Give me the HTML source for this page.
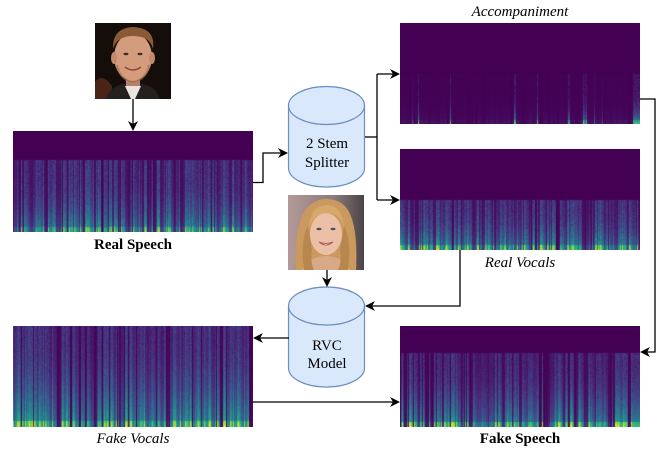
<!DOCTYPE html>
<html><head><meta charset="utf-8">
<style>
html,body{margin:0;padding:0;background:#fff;}
#wrap{position:relative;width:666px;height:454px;overflow:hidden;background:#fff;}
canvas{position:absolute;background:#440154;}
svg{position:absolute;left:0;top:0;}
</style></head>
<body>
<div id="wrap">
<canvas id="s1" width="240" height="101" style="left:13px;top:131px"></canvas>
<canvas id="s2" width="240" height="101" style="left:400px;top:23px"></canvas>
<canvas id="s3" width="240" height="101" style="left:400px;top:149px"></canvas>
<canvas id="s4" width="240" height="101" style="left:13px;top:326px"></canvas>
<canvas id="s5" width="240" height="101" style="left:400px;top:326px"></canvas>
<svg width="666" height="454" viewBox="0 0 666 454" xmlns="http://www.w3.org/2000/svg">
  <defs>
    <linearGradient id="mbg" x1="0" y1="0" x2="1" y2="0">
      <stop offset="0" stop-color="#b39a98"/>
      <stop offset="0.6" stop-color="#8c7a7c"/>
      <stop offset="1" stop-color="#4a4446"/>
    </linearGradient>
  </defs>
  <!-- Ryan photo -->
  <g>
    <rect x="95" y="23" width="76" height="76" fill="#140d09"/>
    <path d="M95 82 Q102 72 112 86 L112 99 L95 99Z" fill="#4a2414"/>
    <path d="M106 99 Q110 86 124 84 L142 84 Q156 86 160 99Z" fill="#23201e"/>
    <path d="M125 86 L141 86 L135 99 L131 99Z" fill="#e8e4e0"/>
    <rect x="126" y="72" width="14" height="14" fill="#b8826a"/>
    <ellipse cx="133" cy="57" rx="19" ry="24" fill="#d49c7c"/>
    <ellipse cx="114" cy="58" rx="3" ry="6" fill="#c08a6c"/>
    <ellipse cx="152" cy="58" rx="3" ry="6" fill="#c08a6c"/>
    <path d="M113 49 Q112 28 133 27 Q156 28 153 49 Q150 36 133 36 Q117 36 113 49Z" fill="#8a5a36"/>
    <ellipse cx="126" cy="54" rx="2.5" ry="1.2" fill="#3a2a24"/>
    <ellipse cx="140" cy="54" rx="2.5" ry="1.2" fill="#3a2a24"/>
    <path d="M125 67 Q133 73 141 67" stroke="#8a4a3a" stroke-width="1.5" fill="none"/>
    <path d="M117 65 Q120 80 133 82 Q146 80 149 65" stroke="#9a6a4c" stroke-width="2" fill="none" opacity="0.6"/>
  </g>
  <!-- Margot photo -->
  <g>
    <rect x="288" y="195" width="76" height="75" fill="url(#mbg)"/>
    <path d="M296 270 Q294 230 304 212 Q314 198 328 199 Q344 200 350 214 Q358 232 356 270Z" fill="#c9995e"/>
    <path d="M302 270 Q310 256 326 256 Q342 256 350 270Z" fill="#d9a886"/>
    <ellipse cx="326" cy="234" rx="16" ry="21" fill="#ebc0a6"/>
    <path d="M309 228 Q310 206 327 205 Q343 206 344 228 Q340 213 327 213 Q314 214 309 228Z" fill="#d6a96a"/>
    <ellipse cx="319" cy="229" rx="2.5" ry="1.2" fill="#4a5058"/>
    <ellipse cx="333" cy="229" rx="2.5" ry="1.2" fill="#4a5058"/>
    <path d="M319 242 Q326 248 333 242 Q326 245 319 242Z" fill="#ffffff" stroke="#b05a5a" stroke-width="1"/>
    <path d="M304 270 Q300 240 308 226 L312 250 Q310 262 314 270Z" fill="#b8874e"/>
    <path d="M348 270 Q352 240 344 226 L340 250 Q342 262 338 270Z" fill="#b8874e"/>
  </g>

  <!-- cylinders -->
  <g fill="#dae8fc" stroke="#6c8ebf" stroke-width="1.2">
    <path d="M288.5 105.5 A38 19 0 0 1 364.5 105.5 L364.5 168 A38 19 0 0 1 288.5 168 Z"/>
    <path d="M288.5 105.5 A38 19 0 0 0 364.5 105.5" fill="none"/>
    <path d="M288.5 306 A38 19 0 0 1 364.5 306 L364.5 368 A38 19 0 0 1 288.5 368 Z"/>
    <path d="M288.5 306 A38 19 0 0 0 364.5 306" fill="none"/>
  </g>

  <!-- connectors -->
  <g stroke="#000" stroke-width="1.3" fill="none">
    <line x1="133" y1="99" x2="133" y2="125"/>
    <polyline points="253,182.5 263,182.5 263,153 282,153"/>
    <line x1="365" y1="137" x2="377" y2="137"/>
    <line x1="377" y1="74" x2="377" y2="200"/>
    <line x1="377" y1="74" x2="394" y2="74"/>
    <line x1="377" y1="200" x2="394" y2="200"/>
    <polyline points="640,99 655,99 655,352 646,352"/>
    <polyline points="460,250 460,306 371,306"/>
    <line x1="327" y1="270" x2="327" y2="281"/>
    <line x1="289" y1="338" x2="259" y2="338"/>
    <line x1="253" y1="402" x2="394" y2="402"/>
  </g>
  <g fill="#000">
    <path d="M133 131 L128 121 L133 124 L138 121 Z"/>
    <path d="M288 153 L278 148 L281 153 L278 158 Z"/>
    <path d="M400 74 L390 69 L393 74 L390 79 Z"/>
    <path d="M400 200 L390 195 L393 200 L390 205 Z"/>
    <path d="M640 352 L650 347 L647 352 L650 357 Z"/>
    <path d="M365 306 L375 301 L372 306 L375 311 Z"/>
    <path d="M327 287 L322 277 L327 280 L332 277 Z"/>
    <path d="M253 338 L263 333 L260 338 L263 343 Z"/>
    <path d="M400 402 L390 397 L393 402 L390 407 Z"/>
  </g>

  <!-- text -->
  <g font-family="Liberation Serif, serif" font-size="15" fill="#000" text-anchor="middle">
    <text x="327" y="148">2 Stem</text>
    <text x="327" y="167">Splitter</text>
    <text x="327" y="350">RVC</text>
    <text x="327" y="368">Model</text>
    <text x="133" y="249" font-weight="bold">Real Speech</text>
    <text x="520" y="443" font-weight="bold">Fake Speech</text>
    <text x="520" y="16" font-style="italic">Accompaniment</text>
    <text x="520" y="267" font-style="italic">Real Vocals</text>
    <text x="133" y="443" font-style="italic">Fake Vocals</text>
  </g>
</svg>
</div>
<script>
(function(){
const stops=[[68,1,84],[71,45,123],[59,82,139],[44,114,142],[33,145,140],[40,174,128],[94,201,98],[173,220,48],[253,231,37]];
function vir(v){v=Math.max(0,Math.min(1,v));const p=v*8,i=Math.min(7,Math.floor(p)),f=p-i,a=stops[i],b=stops[i+1];return [a[0]+(b[0]-a[0])*f,a[1]+(b[1]-a[1])*f,a[2]+(b[2]-a[2])*f];}
function rng(s){return function(){s=(s*1664525+1013904223)>>>0;return s/4294967296;};}
function spec(id,o){
 const c=document.getElementById(id);if(!c||!c.getContext)return;
 const W=c.width,H=c.height,ctx=c.getContext('2d'),im=ctx.createImageData(W,H),d=im.data,R=rng(o.seed);
 const top=Math.round(H*o.cut),act=[];
 let prev=0;
 for(let x=0;x<W;x++){
   let a;
   if(R()<0.35&&x>0){a=prev*0.8+0.2*R()*o.min;}
   else if(R()<o.dark)a=o.dl*R();
   else a=o.min+(1-o.min)*R();
   if(R()<o.spike)a=1;
   act.push(a);prev=a;
 }
 if(o.edge)for(let x=W-o.edge;x<W;x++)act[x]=o.edgeA;
 for(let x=0;x<W;x++){
  const a=act[x];
  for(let y=0;y<H;y++){
   let v=0;
   if(y>=top){
    const h=(H-1-y)/(H-top);
    v=a*(o.lo+o.hi*Math.pow(1-h,o.pw))+(R()-0.5)*o.noise*a;
    if(H-1-y<o.fl)v+=o.fb*a;
   }
   const col=vir(v),k=(y*W+x)*4;
   d[k]=col[0];d[k+1]=col[1];d[k+2]=col[2];d[k+3]=255;
  }
 }
 ctx.putImageData(im,0,0);
}
spec('s1',{seed:11,cut:.29,dark:.35,dl:.3,min:.3,spike:.06,lo:.2,hi:.45,pw:3,noise:.15,fl:5,fb:.2});
spec('s2',{seed:23,cut:.5,dark:.9,dl:.08,min:.2,spike:.02,lo:.06,hi:.5,pw:5,noise:.1,fl:4,fb:.25,edge:7,edgeA:.85});
spec('s3',{seed:37,cut:.5,dark:.3,dl:.3,min:.35,spike:.08,lo:.2,hi:.45,pw:2.5,noise:.15,fl:5,fb:.25});
spec('s4',{seed:41,cut:0,dark:.25,dl:.1,min:.4,spike:.08,lo:.18,hi:.5,pw:2.5,noise:.12,fl:6,fb:.25});
spec('s5',{seed:53,cut:.27,dark:.25,dl:.2,min:.4,spike:.08,lo:.16,hi:.5,pw:2.5,noise:.12,fl:5,fb:.3,edge:8,edgeA:.7});
})();
</script>
</body></html>
